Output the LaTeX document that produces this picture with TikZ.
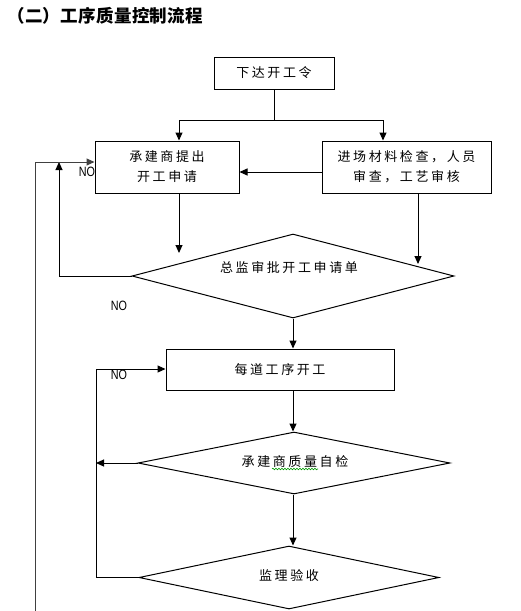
\documentclass[tikz,border=0pt]{standalone}
\usepackage{fontspec}
\newfontfamily\cjk{Noto Sans CJK SC}[LetterSpace=20]
\newfontfamily\cjktitle{Noto Sans CJK SC}[LetterSpace=2]
\newfontfamily\nofont{Liberation Sans}
\usetikzlibrary{arrows.meta,shapes.geometric,decorations.pathmorphing}
\begin{document}
\begin{tikzpicture}[x=1pt,y=-1pt,
  box/.style={draw,line width=1pt,fill=white,inner sep=0pt,align=center,font=\cjk\fontsize{13}{20}\selectfont},
  dia/.style={draw,diamond,line width=1pt,inner sep=0pt},
  lbl/.style={font=\cjk\fontsize{13}{20}\selectfont,inner sep=0pt},
  arr/.style={line width=1pt,-{Triangle[length=8pt,width=7pt]}},
  ln/.style={line width=1pt},
  nolbl/.style={font=\nofont\fontsize{13.5}{14}\selectfont,xscale=0.8,inner sep=0pt}]
\useasboundingbox (0,0) rectangle (521,611);
% title
\node[anchor=west,inner sep=0pt,font=\cjktitle\bfseries\fontsize{17.5}{20}\selectfont] (title) at (7,16) {（二）工序质量控制流程};
% NO labels (drawn first, boxes cover them)
\node[nolbl] (no1) at (87,172) {NO};
\node[nolbl] (no2) at (119,306) {NO};
\node[nolbl] (no3) at (119,375) {NO};
% boxes
\node[box,minimum width=120pt,minimum height=32pt] (b1) at (274,73) {下达开工令};
\node[box,minimum width=144pt,minimum height=52pt] (b2) at (167,167) {承建商提出\\开工申请};
\node[box,minimum width=169pt,minimum height=52pt] (b3) at (406.5,167) {进场材料检查，人员\\审查，工艺审核};
\node[box,minimum width=228pt,minimum height=41pt] (b4) at (280,369.5) {每道工序开工};
% diamonds
\node[dia,minimum width=322pt,minimum height=84pt] (d1) at (293,276) {};
\node[lbl] (t1) at (289,268) {总监审批开工申请单};
\node[dia,minimum width=312pt,minimum height=62pt] (d2) at (294,463) {};
\node[lbl] (t2) at (295,462) {承建商质量自检};
\node[dia,minimum width=300pt,minimum height=63pt] (d3) at (289,577.5) {};
\node[lbl] (t3) at (289,576) {监理验收};
% spell-check underline
\draw[green!60!black,line width=0.6pt,decorate,decoration={snake,segment length=3pt,amplitude=0.8pt}] (272,469) -- (318,469);
% coordinates
\coordinate (jl) at (179,120);
\coordinate (jr) at (383,120);
\coordinate (e1) at (179,253);
\coordinate (e2) at (418,264);
\coordinate (fl) at (59,276);
\coordinate (ob) at (35,611);
\coordinate (ot) at (35,162);
\coordinate (ll) at (96,369);
\coordinate (mx) at (293,0);
% connectors
\draw[ln] (b1.south) -- (b1.south |- jl);
\draw[ln] (jl) -- (jr);
\draw[arr] (jl) -- (jl |- b2.north);
\draw[arr] (jr) -- (jr |- b3.north);
\draw[arr] ([yshift=-5pt]b3.west) -- ([yshift=-5pt]b2.east);
\draw[arr] (b2.south -| e1) -- (e1);
\draw[arr] (b3.south -| e2) -- (e2);
\draw[arr] (d1.west) -- (fl) -- (fl |- ot);
\draw[arr,draw=black!75] (ob) -- (ot) -- (ot -| b2.west);
\draw[arr] (d1.south -| mx) -- (b4.north -| mx);
\draw[arr] (b4.south -| mx) -- (d2.north -| mx);
\draw[arr] (d2.west) -- (d2.west -| ll);
\draw[arr] (d2.south -| mx) -- (d3.north -| mx);
\draw[arr] (d3.west) -- (d3.west -| ll) -- (ll) -- (ll -| b4.west);
\end{tikzpicture}
\end{document}
